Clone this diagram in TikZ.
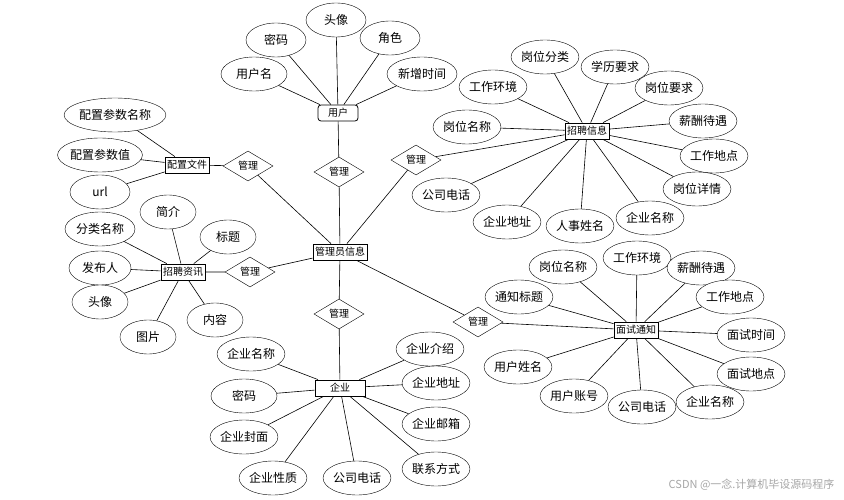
\documentclass[tikz,border=0pt]{standalone}
\usepackage{fontspec}
\setmainfont{Noto Sans CJK SC}
\usetikzlibrary{shapes.geometric}
\begin{document}
\begin{tikzpicture}[x=1pt,y=-1pt,
  ent/.style={draw,thick,fill=white,font=\fontsize{10}{11}\selectfont,inner sep=2pt,minimum height=16pt},
  attr/.style={draw,ellipse,fill=white,font=\fontsize{12}{13}\selectfont,minimum width=66pt,minimum height=34pt,inner sep=0pt},
  rel/.style={draw,diamond,aspect=1.6,fill=white,font=\fontsize{10}{11}\selectfont,inner sep=1pt,minimum width=50pt,minimum height=30pt},
  ln/.style={draw,line width=0.6pt}]
\useasboundingbox (0,0) rectangle (844,500);
% entities
\node[ent,rounded corners=3pt,minimum width=40pt] (yh) at (338,113) {用户};
\node[ent] (gly) at (340,252) {管理员信息};
\node[ent] (pz) at (187,165) {配置文件};
\node[ent] (zx) at (183,272) {招聘资讯};
\node[ent] (xx) at (587,131) {招聘信息};
\node[ent] (ms) at (636,330) {面试通知};
\node[ent,minimum width=50pt] (qy) at (340,388) {企业};
% relations
\node[rel] (r1) at (339,172) {管理};
\node[rel] (r2) at (248,166) {管理};
\node[rel] (r3) at (250,272) {管理};
\node[rel] (r4) at (416,160) {管理};
\node[rel] (r5) at (339,314) {管理};
\node[rel] (r6) at (478,322) {管理};
\begin{scope}[on background layer/.style={}]
\end{scope}
% attributes
\foreach \n/\x/\y/\t/\w in {
 a1/276/40/密码/60, a2/336/20/头像/60, a3/390/38/角色/60, a4/254/74/用户名/66, a5/422/74/新增时间/70}
 {\node[attr,minimum width=\w pt] (\n) at (\x,\y) {\t};}
\foreach \n/\x/\y/\t/\w in {
 b1/115/115/配置参数名称/92, b2/100/155/配置参数值/82, b3/100/192/url/60}
 {\node[attr,minimum width=\w pt] (\n) at (\x,\y) {\t};}
\foreach \n/\x/\y/\t/\w in {
 c1/168/212/简介/56, c2/100/229/分类名称/70, c3/228/237/标题/56, c4/100/268/发布人/62, c5/100/302/头像/56, c6/215/320/内容/56, c7/148/337/图片/56}
 {\node[attr,minimum width=\w pt] (\n) at (\x,\y) {\t};}
\foreach \n/\x/\y/\t in {
 d1/545/57/岗位分类, d2/615/67/学历要求, d3/493/87/工作环境, d4/669/88/岗位要求, d5/467/127/岗位名称, d6/703/121/薪酬待遇, d7/714/156/工作地点, d8/446/195/公司电话, d9/697/189/岗位详情, d10/507/222/企业地址, d11/580/226/人事姓名, d12/650/218/企业名称}
 {\node[attr] (\n) at (\x,\y) {\t};}
\foreach \n/\x/\y/\t in {
 e1/563/267/岗位名称, e2/637/258/工作环境, e3/701/268/薪酬待遇, e4/730/297/工作地点, e5/519/297/通知标题, e6/751/335/面试时间, e7/518/367/用户姓名, e8/751/374/面试地点, e9/574/396/用户账号, e10/642/407/公司电话, e11/710/402/企业名称}
 {\node[attr] (\n) at (\x,\y) {\t};}
\foreach \n/\x/\y/\t in {
 f1/251/354/企业名称, f2/430/349/企业介绍, f3/436/383/企业地址, f4/244/396/密码, f5/436/424/企业邮箱, f6/244/437/企业封面, f7/436/469/联系方式, f8/273/478/企业性质, f9/357/478/公司电话}
 {\node[attr] (\n) at (\x,\y) {\t};}
% connectors
\foreach \a in {a1,a2,a3,a4,a5} \draw[ln] (\a) -- (yh);
\foreach \a in {b1,b2,b3} \draw[ln] (\a) -- (pz);
\foreach \a in {c1,c2,c3,c4,c5,c6,c7} \draw[ln] (\a) -- (zx);
\foreach \a in {d1,d2,d3,d4,d5,d6,d7,d8,d9,d10,d11,d12} \draw[ln] (\a) -- (xx);
\foreach \a in {e1,e2,e3,e4,e5,e6,e7,e8,e9,e10,e11} \draw[ln] (\a) -- (ms);
\foreach \a in {f1,f2,f3,f4,f5,f6,f7,f8,f9} \draw[ln] (\a) -- (qy);
\draw[ln] (yh) -- (r1) -- (gly);
\draw[ln] (pz) -- (r2) -- (gly);
\draw[ln] (zx) -- (r3) -- (gly);
\draw[ln] (gly) -- (r4) -- (xx);
\draw[ln] (gly) -- (r5) -- (qy);
\draw[ln] (gly) -- (r6) -- (ms);
\node[font=\fontsize{11}{12}\selectfont,text=black!35,anchor=east] (wm) at (838,485) {CSDN @一念.计算机毕设源码程序};
\end{tikzpicture}
\end{document}
